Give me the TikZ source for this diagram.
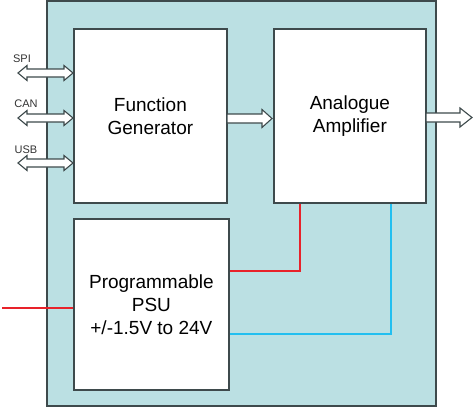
\documentclass[tikz,border=0pt]{standalone}
\usepackage{fontspec}
\setmainfont{Liberation Sans}
\definecolor{panel}{HTML}{BBE0E3}
\definecolor{edge}{HTML}{3E4A4C}
\definecolor{redline}{HTML}{E8222A}
\definecolor{blueline}{HTML}{22BFF0}
\tikzset{
  block/.style={draw=edge, fill=white, line width=1.8pt, inner sep=0pt, anchor=north west,
    font=\fontsize{19}{23}\selectfont, align=center},
  blockarrow/.style={draw=edge, fill=white, line width=1.1pt, line join=miter},
  wire/.style={line width=2.6pt},
  small/.style={font=\fontsize{11}{13}\selectfont, inner sep=0pt, text=black!80}
}
\newcommand\mydblarrow[3]{% x1, x2, y
  \draw[blockarrow] (#1,#3) -- (#1+9,#3-7.5) -- (#1+9,#3-4) -- (#2-9,#3-4) -- (#2-9,#3-7.5) -- (#2,#3)
    -- (#2-9,#3+7.5) -- (#2-9,#3+4) -- (#1+9,#3+4) -- (#1+9,#3+7.5) -- cycle;}
\newcommand\mysglarrow[6]{% x1, x2, y, shaft half, head half, head len
  \draw[blockarrow] (#1,#3-#4) -- (#2-#6,#3-#4) -- (#2-#6,#3-#5) -- (#2,#3) -- (#2-#6,#3+#5)
    -- (#2-#6,#3+#4) -- (#1,#3+#4) -- cycle;}
\begin{document}
\begin{tikzpicture}[x=1pt,y=-1pt]
\useasboundingbox (0,0) rectangle (474,408);
% outer panel
\draw[draw=edge, fill=panel, line width=2pt] (47,1) rectangle (436,406);
% blocks
\node[block, minimum width=153pt, minimum height=174pt] (fg) at (73,28) {Function\\Generator};
\node[block, minimum width=152pt, minimum height=174pt] (aa) at (273,28) {Analogue\\Amplifier};
\node[block, minimum width=155pt, minimum height=171pt] (psu) at (73,218) {Programmable\\PSU\\+/-1.5V to 24V};
% wires
\draw[wire, redline] (psu.east |- 0,271) -| (aa.south -| 300,0);
\draw[wire, blueline] (psu.east |- 0,334) -| (aa.south -| 391,0);
\coordinate (in) at (2,308);
\draw[wire, redline] (in) -- (psu.west |- in);
% interface arrows
\mydblarrow{18}{73}{73}
\mydblarrow{18}{73}{118}
\mydblarrow{18}{73}{163}
\node[small] (spi) at (22,59) {SPI};
\node[small] (can) at (26,104) {CAN};
\node[small] (usb) at (26,150) {USB};
% block arrows
\mysglarrow{227}{272}{118.5}{4.5}{9}{10}
\mysglarrow{426}{472}{117.5}{4.5}{9.5}{12}
\end{tikzpicture}
\end{document}
